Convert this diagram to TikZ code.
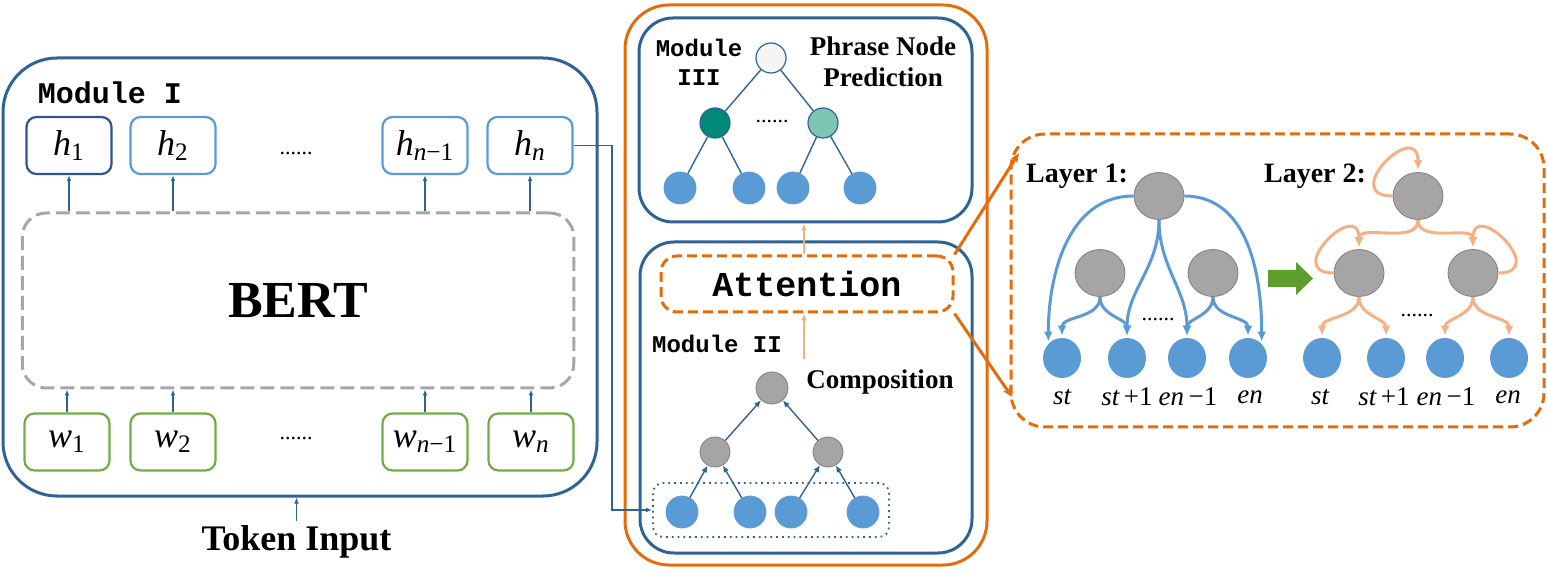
\documentclass[tikz,border=0pt]{standalone}
\usepackage{fontspec}
\setmainfont{Liberation Serif}
\setmonofont{Liberation Mono}
\usetikzlibrary{arrows.meta,shapes.geometric}

\definecolor{modblue}{HTML}{2E6396}
\definecolor{hdark}{HTML}{2F5597}
\definecolor{hlight}{HTML}{5B9BD5}
\definecolor{wgreen}{HTML}{70AD47}
\definecolor{bertgray}{HTML}{A6A6A6}
\definecolor{attorange}{HTML}{E46C0A}
\definecolor{softorange}{HTML}{F4B183}
\definecolor{leafblue}{HTML}{5B9BD5}
\definecolor{nodegray}{HTML}{A6A4A4}
\definecolor{tealdark}{HTML}{00897A}
\definecolor{teallight}{HTML}{7CC6B2}
\definecolor{arrowgreen}{HTML}{5E9E2E}

\newcommand{\vsym}[2]{\textit{#1}\textsubscript{#2}}

\tikzset{
  modbox/.style={draw=modblue, line width=1.5pt, rounded corners=17pt, inner sep=0pt},
  modlabel/.style={font=\ttfamily\bfseries\fontsize{12}{14.5}\selectfont, align=center, inner sep=0pt},
  boldlabel/.style={font=\bfseries\fontsize{13.5}{15.5}\selectfont, align=center, inner sep=0pt},
  hbox/.style={draw=hlight, line width=1.1pt, rounded corners=5pt, minimum width=42.5pt,
    minimum height=28.5pt, inner sep=0pt, font=\fontsize{18}{20}\selectfont},
  wbox/.style={hbox, draw=wgreen},
  bertbox/.style={draw=bertgray, line width=1.5pt, dash pattern=on 7pt off 3pt, rounded corners=12pt,
    minimum width=275.75pt, minimum height=87.5pt, font=\bfseries\fontsize{26}{30}\selectfont},
  dotsnode/.style={font=\fontsize{11}{12}\selectfont, inner sep=0pt},
  upline/.style={draw=modblue, line width=0.6pt, -{Latex[length=3pt,width=2.4pt]}},
  treeline/.style={draw=modblue, line width=0.7pt},
  treearrow/.style={treeline, -{Latex[length=3.5pt,width=3pt]}},
  treeleaf/.style={circle, fill=leafblue, draw=leafblue, minimum size=16pt, inner sep=0pt},
  treegray/.style={circle, fill=nodegray, draw=gray, line width=0.4pt, minimum size=15pt, inner sep=0pt},
  attnbox/.style={draw=attorange, line width=1.5pt, dash pattern=on 5pt off 2.5pt, rounded corners=8pt,
    minimum width=146pt, minimum height=28pt, font=\ttfamily\bfseries\fontsize{17.5}{20}\selectfont},
  softarrow/.style={draw=softorange, line width=0.8pt, -{Latex[length=3.5pt,width=3pt]}},
  zoomline/.style={draw=attorange, line width=1.5pt, -{Stealth[length=5pt,width=4pt]}},
  bignode/.style={ellipse, fill=nodegray, draw=gray, line width=0.4pt, minimum width=25pt,
    minimum height=23.5pt, inner sep=0pt},
  bigleaf/.style={ellipse, fill=leafblue, minimum width=19pt, minimum height=20pt, inner sep=0pt},
  leaflab/.style={font=\itshape\fontsize{13.5}{15}\selectfont, inner sep=0pt},
  layerlab/.style={font=\bfseries\fontsize{14}{16}\selectfont, inner sep=0pt, anchor=base},
  bluecurve/.style={draw=leafblue, line width=1.5pt, shorten >=1pt, -{Latex[length=5pt,width=4.5pt]}},
  orangecurve/.style={draw=softorange, line width=1.5pt, shorten >=1pt, -{Latex[length=5pt,width=4.5pt]}}
}

\begin{document}
\begin{tikzpicture}[x=0.5pt,y=-0.5pt]
\useasboundingbox (0,0) rectangle (1547,571);

% Module I
\node[modbox, rounded corners=27pt, minimum width=297pt, minimum height=219pt] (modI) at (300,277) {};
\node[modlabel, font=\ttfamily\bfseries\fontsize{15}{18}\selectfont] (labI) at (110,93) {Module I};
\node[bertbox] (bert) at (298,300.5) {BERT};
\node[hbox, draw=hdark] (h1) at (69,145.5) {\vsym{h}{1}};
\node[hbox] (h2) at (173,145.5) {\vsym{h}{2}};
\node[hbox] (hm) at (425,145.5) {\vsym{h}{\textit{n}−1}};
\node[hbox] (hn) at (530,145.5) {\vsym{h}{\textit{n}}};
\node[dotsnode] (hdots) at (296,154) {......};
\node[wbox] (w1) at (67,442) {\vsym{w}{1}};
\node[wbox] (w2) at (173,442) {\vsym{w}{2}};
\node[wbox] (wm) at (425,442) {\vsym{w}{\textit{n}−1}};
\node[wbox] (wn) at (531,442) {\vsym{w}{\textit{n}}};
\node[dotsnode] (wdots) at (296,439) {......};
\foreach \b in {h1,h2,hm,hn}
  \draw[upline] (\b |- bert.north) -- (\b.south);
\foreach \b in {w1,w2,wm,wn}
  \draw[upline] (\b.north) -- (\b |- bert.south);
\node[font=\bfseries\fontsize{18}{20}\selectfont, inner sep=2pt, anchor=base] (token) at (296.5,550) {Token Input};
\draw[upline] (token.north) -- (token.north |- modI.south);

% Modules II and III
\node[draw=attorange, line width=1.5pt, rounded corners=22pt, minimum width=181pt, minimum height=280pt] (outer) at (806,285) {};
\node[modbox, minimum width=166.5pt, minimum height=102pt] (modIII) at (805.5,120) {};
\node[modbox, minimum width=166pt, minimum height=155.5pt] (modII) at (806,397.5) {};

\node[modlabel] (labIII) at (699,62) {Module\\III};
\node[boldlabel] (phrase) at (883,62) {Phrase Node\\Prediction};
\node[treegray, fill=gray!8, draw=modblue, line width=0.6pt] (r3) at (771,58) {};
\node[treegray, fill=tealdark, draw=modblue, line width=0.6pt] (m3a) at (715,123) {};
\node[treegray, fill=teallight, draw=modblue, line width=0.6pt] (m3b) at (823,123) {};
\node[treeleaf] (l3a) at (680,188) {};
\node[treeleaf] (l3b) at (749,188) {};
\node[treeleaf] (l3c) at (793,188) {};
\node[treeleaf] (l3d) at (860,188) {};
\node[dotsnode] (dots3) at (772,122) {......};
\draw[treeline] (r3) -- (m3a);
\draw[treeline] (r3) -- (m3b);
\draw[treeline] (m3a) -- (l3a);
\draw[treeline] (m3a) -- (l3b);
\draw[treeline] (m3b) -- (l3c);
\draw[treeline] (m3b) -- (l3d);

\node[attnbox] (attn) at (807,284) {Attention};
\coordinate (attnin) at (804,359);
\draw[softarrow] (attnin) -- (attnin |- attn.south);
\draw[softarrow] (attn.north -| attnin) -- (attnin |- modIII.south);

\node[modlabel] (labII) at (717,344) {Module II};
\node[boldlabel] (compo) at (880,382) {Composition};
\node[treegray, minimum size=16pt] (c2) at (772,388) {};
\node[treegray] (m2a) at (715,452) {};
\node[treegray] (m2b) at (828,452) {};
\node[treeleaf] (l2a) at (682,512) {};
\node[treeleaf] (l2b) at (750,512) {};
\node[treeleaf] (l2c) at (791,512) {};
\node[treeleaf] (l2d) at (863,512) {};
\node[draw=modblue, line width=0.9pt, dotted, rounded corners=5pt, minimum width=118pt, minimum height=27pt] (leafbox) at (771,510) {};
\draw[treearrow] (l2a) -- (m2a);
\draw[treearrow] (l2b) -- (m2a);
\draw[treearrow] (l2c) -- (m2b);
\draw[treearrow] (l2d) -- (m2b);
\draw[treearrow] (m2a) -- (c2);
\draw[treearrow] (m2b) -- (c2);

\coordinate (bendpt) at (612,0);
\draw[upline] (hn.east) -| (bendpt |- leafbox.west) -- (leafbox.west);

% attention detail
\node[draw=attorange, line width=1.5pt, dash pattern=on 5pt off 2.5pt, rounded corners=17pt, minimum width=266.5pt, minimum height=146.5pt] (panel) at (1277.5,280.5) {};
\coordinate (zoomtop) at (1019,153);
\coordinate (zoombot) at (1012,397);
\draw[zoomline] (attn.north east) -- (zoomtop);
\draw[zoomline] (attn.south east) -- (zoombot);

% Layer 1
\node[layerlab] (lay1) at (1077,183) {Layer 1:};
\node[bignode] (g1r) at (1159,196) {};
\node[bignode] (g1a) at (1100,273) {};
\node[bignode] (g1b) at (1213,273) {};
\node[bigleaf] (l1a) at (1062,358) {};
\node[bigleaf] (l1b) at (1127,358) {};
\node[bigleaf] (l1c) at (1187,358) {};
\node[bigleaf] (l1d) at (1248,358) {};
\node[leaflab] (t1a) at (1062,397) {st};
\node[leaflab] (t1b) at (1127,397) {st\,\upshape +1};
\node[leaflab] (t1c) at (1188,397) {en\,\upshape −1};
\node[leaflab] (t1d) at (1250,397) {en};
\node[dotsnode] (dots1) at (1158,320) {......};
\draw[bluecurve] (g1r.west) to[out=180,in=90] (l1a.north west);
\draw[bluecurve] (g1r.east) to[out=0,in=90] (l1d.north east);
\draw[bluecurve] (g1r.south) to[out=-90,in=90] (l1b.north);
\draw[bluecurve] (g1r.south) to[out=-90,in=90] (l1c.north);
\draw[bluecurve] (g1a.south) to[out=-90,in=90] (l1a.north);
\draw[bluecurve] (g1a.south) to[out=-90,in=90] (l1b.north);
\draw[bluecurve] (g1b.south) to[out=-90,in=90] (l1c.north);
\draw[bluecurve] (g1b.south) to[out=-90,in=90] (l1d.north);

\fill[arrowgreen] (1268,270) -- (1296,270) -- (1296,262) -- (1313,278.5) -- (1296,295) -- (1296,287) -- (1268,287) -- cycle;

% Layer 2
\node[layerlab] (lay2) at (1315,183) {Layer 2:};
\node[bignode] (g2r) at (1418,196) {};
\node[bignode] (g2a) at (1359,273) {};
\node[bignode] (g2b) at (1473,273) {};
\node[bigleaf] (l2a) at (1322,358) {};
\node[bigleaf] (l2b) at (1386,358) {};
\node[bigleaf] (l2c) at (1445,358) {};
\node[bigleaf] (l2d) at (1509,358) {};
\node[leaflab] (t2a) at (1320,397) {st};
\node[leaflab] (t2b) at (1384,397) {st\,\upshape +1};
\node[leaflab] (t2c) at (1446,397) {en\,\upshape −1};
\node[leaflab] (t2d) at (1508,397) {en};
\node[dotsnode] (dots2) at (1417,316) {......};
\draw[orangecurve] (g2r.west) to[out=180,in=90,looseness=4] (g2r.north);
\draw[orangecurve] (g2a.west) to[out=180,in=90,looseness=3.8] (g2a.north);
\draw[orangecurve] (g2b.east) to[out=0,in=90,looseness=3.8] (g2b.north);
\draw[orangecurve] (g2r.south) to[out=-90,in=90] (g2a.north);
\draw[orangecurve] (g2r.south) to[out=-90,in=90] (g2b.north);
\draw[orangecurve] (g2a.south) to[out=-90,in=90] (l2a.north);
\draw[orangecurve] (g2a.south) to[out=-90,in=90] (l2b.north);
\draw[orangecurve] (g2b.south) to[out=-90,in=90] (l2c.north);
\draw[orangecurve] (g2b.south) to[out=-90,in=90] (l2d.north);
\end{tikzpicture}
\end{document}
